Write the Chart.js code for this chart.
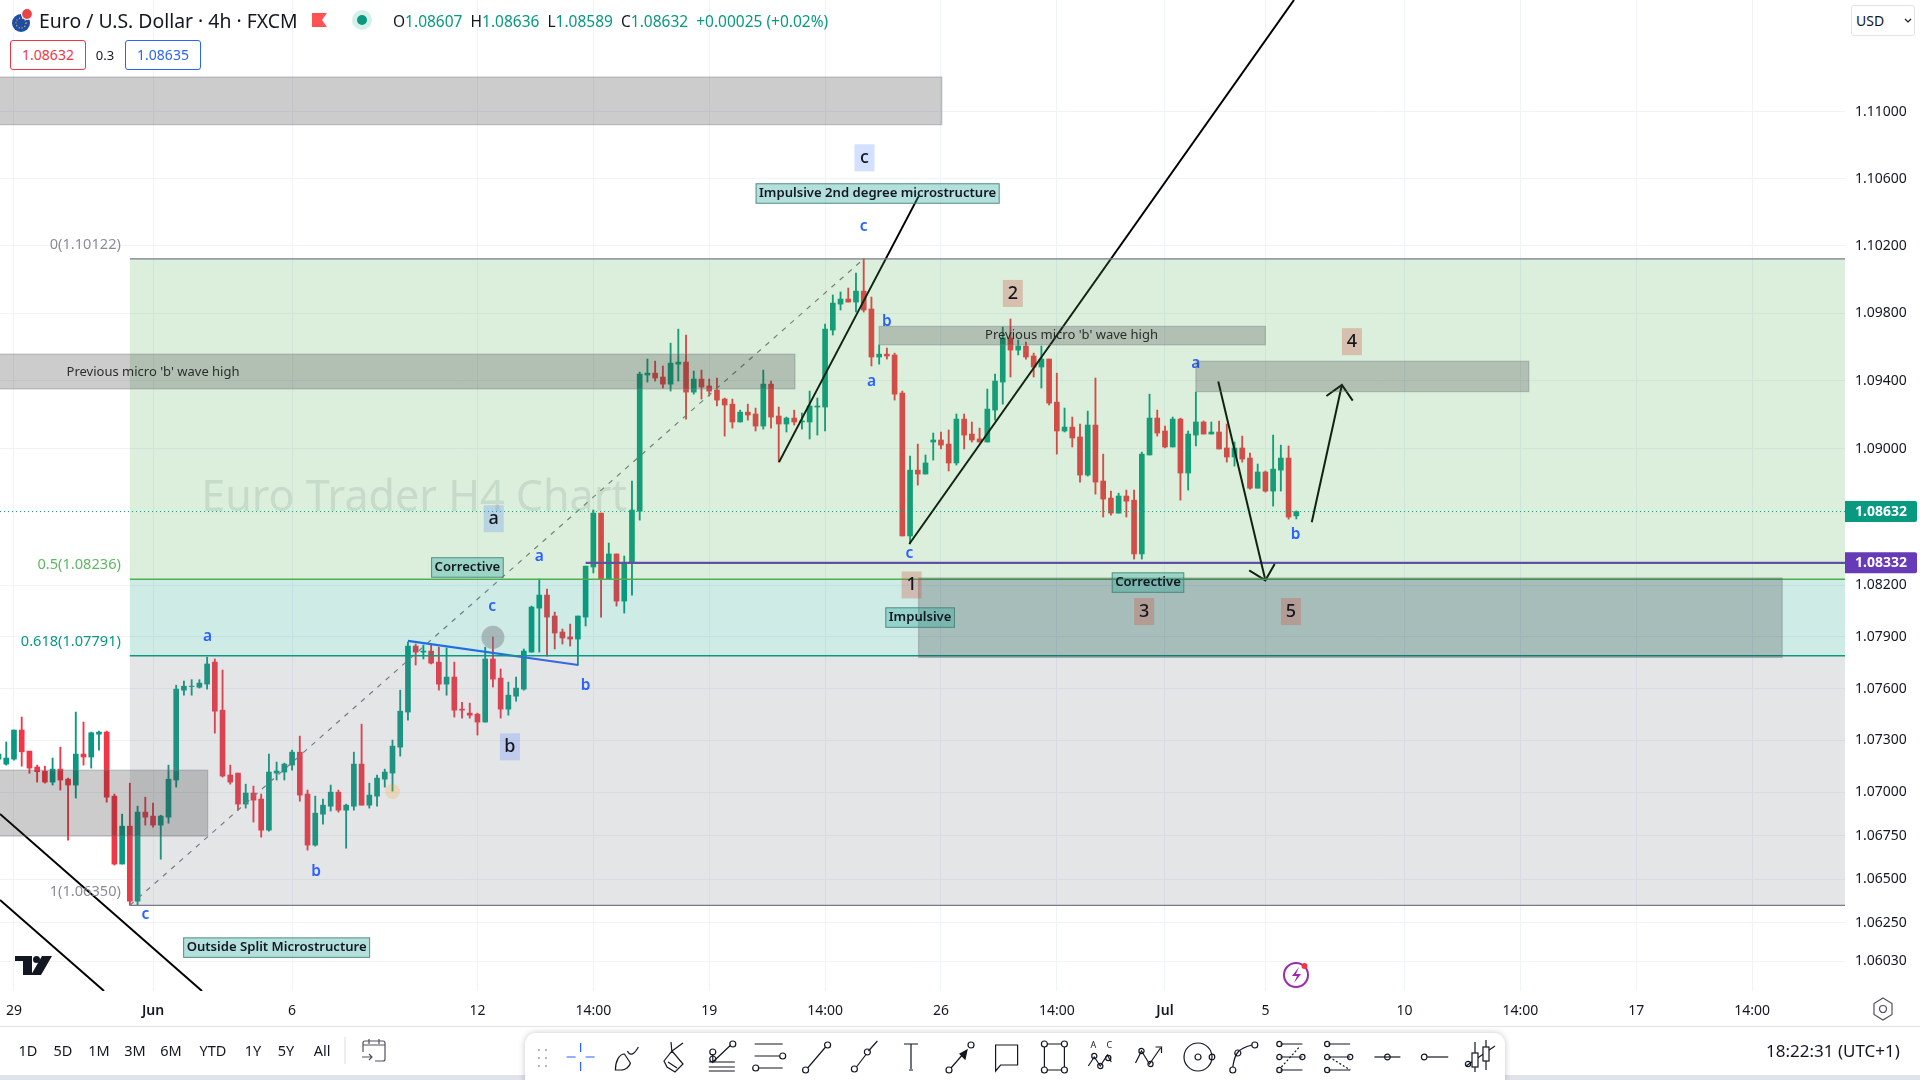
<!DOCTYPE html>
<html><head><meta charset="utf-8">
<script src="https://cdn.jsdelivr.net/npm/chart.js@4/dist/chart.umd.min.js"></script>
<style>
html,body{margin:0;padding:0;background:#fff;width:1920px;height:1080px;overflow:hidden;font-family:"Noto Sans",sans-serif;color:#131722}
#c{position:absolute;left:0;top:0;width:1920px;height:1080px}
.t{position:absolute;white-space:nowrap;transform:translateY(-50%);line-height:1}
.m{transform:translate(-50%,-50%)}
svg{position:absolute;left:0;top:0}
.box{position:absolute;box-sizing:border-box;border-radius:3px;background:#fff}
</style></head><body>
<canvas id="c" width="1920" height="1080"></canvas>
<div id="ui"></div>
<script>
// ---- candle data (index 0 = 1 Jun) ----
const firstBar=-20;
const opens=[1.07192,1.07163,1.07192,1.07360,1.07238,1.07146,1.07122,1.07059,1.07134,1.07076,1.07042,1.07221,1.07204,1.07336,1.07348,1.06978,1.06587,1.06805,1.06374,1.06886,
1.06863,1.06811,1.06857,1.07071,1.07591,1.07612,1.07608,1.07626,1.07754,1.07475,1.07100,1.07111,1.06932,1.06996,1.06961,1.06782,1.07111,1.07117,1.07157,1.07232,
1.06990,1.06696,1.06874,1.06920,1.07001,1.06897,1.06920,1.07163,1.06926,1.06978,1.07076,1.07111,1.07261,1.07464,1.07847,1.07812,1.07818,1.07754,1.07626,1.07667,
1.07481,1.07458,1.07452,1.07406,1.07772,1.07661,1.07481,1.07556,1.07597,1.07812,1.08068,1.08144,1.08022,1.07929,1.07900,1.07888,1.08016,1.08308,1.08623,1.08238,
1.08384,1.08109,1.08331,1.08635,1.09435,1.09446,1.09423,1.09381,1.09499,1.09511,1.09334,1.09411,1.09370,1.09346,1.09293,1.09263,1.09158,1.09216,1.09205,1.09134,
1.09381,1.09193,1.09146,1.09181,1.09158,1.09158,1.09246,1.09246,1.09700,1.09854,1.09884,1.09866,1.09931,1.09825,1.09541,1.09558,1.09553,1.09328,1.08489,1.08875,
1.08852,1.09040,1.09052,1.09028,1.08917,1.09175,1.09087,1.09058,1.09040,1.09228,1.09393,1.09653,1.09582,1.09606,1.09547,1.09482,1.09529,1.09275,1.09105,1.09128,
1.09070,1.08846,1.09140,1.08811,1.08711,1.08623,1.08723,1.08699,1.08384,1.08964,1.09181,1.09105,1.09011,1.09175,1.08858,1.09081,1.09158,1.09087,1.09099,1.09005,
1.08952,1.09005,1.08946,1.08769,1.08864,1.08752,1.08875,1.08946,1.08607];
const highs=[1.07221,1.07291,1.07360,1.07435,1.07238,1.07157,1.07151,1.07198,1.07261,1.07082,1.07464,1.07406,1.07348,1.07354,1.07354,1.06990,1.06874,1.07053,1.06920,1.06972,
1.06938,1.06868,1.07157,1.07620,1.07644,1.07652,1.07652,1.07783,1.07772,1.07708,1.07157,1.07111,1.07047,1.07036,1.06990,1.07221,1.07175,1.07169,1.07244,1.07325,
1.07013,1.06978,1.06961,1.07042,1.07013,1.06932,1.07232,1.07394,1.07053,1.07100,1.07134,1.07302,1.07591,1.07871,1.07859,1.07853,1.07853,1.07841,1.07836,1.07754,
1.07521,1.07516,1.07458,1.07841,1.07900,1.07714,1.07638,1.07667,1.07830,1.08080,1.08238,1.08179,1.08045,1.07946,1.07975,1.08022,1.08313,1.08641,1.08623,1.08448,
1.08384,1.08372,1.08811,1.09452,1.09529,1.09517,1.09488,1.09623,1.09706,1.09671,1.09458,1.09464,1.09411,1.09417,1.09299,1.09293,1.09228,1.09263,1.09240,1.09464,
1.09399,1.09246,1.09187,1.09228,1.09211,1.09340,1.09299,1.09736,1.09908,1.09926,1.09949,1.10038,1.10122,1.09896,1.09612,1.09594,1.09564,1.09340,1.08958,1.09028,
1.08964,1.09093,1.09099,1.09111,1.09205,1.09205,1.09158,1.09122,1.09352,1.09440,1.09718,1.09766,1.09641,1.09629,1.09564,1.09606,1.09529,1.09446,1.09240,1.09187,
1.09146,1.09222,1.09417,1.08969,1.08752,1.08740,1.08758,1.08758,1.08981,1.09322,1.09228,1.09134,1.09187,1.09181,1.09105,1.09334,1.09164,1.09158,1.09164,1.09146,
1.09040,1.09075,1.08975,1.08911,1.08870,1.09081,1.09022,1.09017,1.08636];
const lows=[1.07190,1.07157,1.07186,1.07151,1.07110,1.07059,1.07053,1.07042,1.07013,1.06725,1.06967,1.07157,1.07140,1.07244,1.06943,1.06581,1.06587,1.06351,1.06351,1.06811,
1.06799,1.06615,1.06822,1.07030,1.07562,1.07562,1.07603,1.07597,1.07342,1.07088,1.07047,1.06897,1.06909,1.06828,1.06742,1.06776,1.07071,1.07071,1.07128,1.06949,
1.06667,1.06690,1.06817,1.06892,1.06886,1.06678,1.06897,1.06926,1.06909,1.06920,1.07030,1.07007,1.07209,1.07417,1.07737,1.07772,1.07743,1.07591,1.07562,1.07435,
1.07429,1.07429,1.07331,1.07406,1.07609,1.07429,1.07446,1.07527,1.07591,1.07812,1.07812,1.07789,1.07830,1.07859,1.07847,1.07737,1.07964,1.08273,1.08016,1.08238,
1.08080,1.08039,1.08144,1.08582,1.09393,1.09399,1.09358,1.09340,1.09399,1.09175,1.09322,1.09293,1.09311,1.09252,1.09075,1.09122,1.09158,1.09169,1.09105,1.09116,
1.09122,1.08922,1.09099,1.09140,1.09116,1.09058,1.09081,1.09105,1.09671,1.09819,1.09866,1.09807,1.09807,1.09488,1.09499,1.09529,1.09287,1.08489,1.08442,1.08787,
1.08852,1.08934,1.08999,1.08870,1.08905,1.08999,1.09040,1.09040,1.09040,1.09169,1.09263,1.09423,1.09553,1.09529,1.09423,1.09358,1.09258,1.08969,1.09099,1.09011,
1.08805,1.08840,1.08734,1.08600,1.08611,1.08623,1.08600,1.08354,1.08354,1.08964,1.09075,1.09005,1.09011,1.08699,1.08758,1.09017,1.09087,1.09087,1.08999,1.08922,
1.08899,1.08922,1.08763,1.08769,1.08746,1.08664,1.08752,1.08588,1.08589];
const closes=[1.07221,1.07198,1.07360,1.07234,1.07140,1.07119,1.07059,1.07134,1.07071,1.07042,1.07221,1.07204,1.07344,1.07348,1.06972,1.06587,1.06805,1.06374,1.06886,1.06857,
1.06811,1.06863,1.07076,1.07597,1.07614,1.07614,1.07632,1.07743,1.07469,1.07094,1.07059,1.06932,1.06996,1.06955,1.06782,1.07117,1.07123,1.07163,1.07232,1.06984,
1.06696,1.06880,1.06926,1.07001,1.06897,1.06926,1.07163,1.06926,1.06984,1.07082,1.07117,1.07267,1.07469,1.07847,1.07812,1.07818,1.07748,1.07626,1.07667,1.07475,
1.07475,1.07446,1.07406,1.07772,1.07655,1.07481,1.07562,1.07603,1.07818,1.08074,1.08144,1.08016,1.07923,1.07894,1.07888,1.08022,1.08313,1.08623,1.08238,1.08384,
1.08109,1.08331,1.08641,1.09440,1.09446,1.09417,1.09381,1.09505,1.09511,1.09334,1.09411,1.09364,1.09340,1.09287,1.09258,1.09158,1.09216,1.09199,1.09134,1.09381,
1.09187,1.09146,1.09181,1.09158,1.09164,1.09252,1.09252,1.09706,1.09860,1.09884,1.09866,1.09931,1.09819,1.09541,1.09558,1.09547,1.09322,1.08489,1.08875,1.08852,
1.08917,1.09052,1.09022,1.08917,1.09175,1.09081,1.09052,1.09040,1.09234,1.09399,1.09653,1.09582,1.09606,1.09541,1.09482,1.09529,1.09269,1.09105,1.09128,1.09064,
1.08846,1.09140,1.08805,1.08705,1.08623,1.08723,1.08693,1.08384,1.08969,1.09181,1.09093,1.09011,1.09175,1.08858,1.09087,1.09158,1.09087,1.09099,1.08999,1.08952,
1.09005,1.08940,1.08769,1.08864,1.08752,1.08881,1.08946,1.08600,1.08632];
// ---- axes ----
const xMin=-19.81,xMax=219.03,yMin=1.0586,yMax=1.1167;
const yTicks=[1.11,1.106,1.102,1.098,1.094,1.09,1.082,1.079,1.076,1.073,1.07,1.0675,1.065,1.0625,1.0603];
const xTickBars=[-18,0,18,42,57,72,87,102,117,131,144,162,177,192,207];
const xTickLabels=['29','Jun','6','12','14:00','19','14:00','26','14:00','Jul','5','10','14:00','17','14:00'];
// ---- fib retracement ----
const fibStartBar=-3,fibEndBar=92;
const fibLevels=[1.10122,1.08236,1.07791,1.0635];
const fibLabels=['0(1.10122)','0.5(1.08236)','0.618(1.07791)','1(1.06350)'];
// ---- price lines ----
const lastPrice=1.08632,purpleLevel=1.08332,purpleStartBar=56;
// ---- drawn rectangles [barFrom,barTo,priceTop,priceBottom] ----
const greyBoxes=[[-25,102.1,1.11207,1.10922],[-25,83.1,1.09558,1.09353],[94,144,1.09722,1.09613],[135,178.1,1.09516,1.09337],[99.1,210.9,1.08244,1.07781],[-25,7.07,1.07128,1.06748]];
// ---- drawn trend lines [bar,price] ----
const lineA=[[-19.81,1.06875],[6.34,1.0586]];
const lineB=[[-19.81,1.06381],[-6.34,1.0586]];
const lineC=[[81.04,1.08922],[99.1,1.10494]];
const lineD=[[97.9,1.08442],[147.7,1.1167]];
const arrowDownShaft=[[137.9,1.09396],[144,1.0823]];
const arrowDownHead=[[141.9,1.08288],[144,1.0823],[145.2,1.08325]];
const arrowUpShaft=[[150,1.0857],[153.9,1.09376]];
const arrowUpHead=[[151.9,1.09311],[153.9,1.09376],[155.3,1.09284]];
const blueLine=[[33,1.07877],[55.05,1.07737]];
// ---- text marks [text,bar,price] ----
const waveLabels=[['c',92,1.10317],['b',95,1.09749],['a',93,1.09399],['c',97.9,1.08384],['a',135,1.09505],['b',147.9,1.08498],['a',50,1.08368],['c',43.9,1.08076],['b',56,1.07616],['a',7.07,1.07901],['b',21.1,1.06546],['c',-1,1.06296]];
const blueTags=[['c',92.1,1.10724],['a',44.1,1.0859],['b',46.2,1.07263]];
const brownTags=[['1',98.2,1.08203],['2',111.3,1.09917],['3',128.3,1.08048],['4',155.2,1.09632],['5',147.3,1.08048]];
const notes=[['Impulsive 2nd degree microstructure',93.8,1.10511],['Corrective',40.7,1.08305],['Impulsive',99.3,1.08013],['Corrective',128.8,1.08217],['Outside Split Microstructure',16,1.06108]];
const plainTexts=[["Previous micro 'b' wave high",0,1.09452],["Previous micro 'b' wave high",118.9,1.09669]];
const watermark=['Euro Trader H4 Chart',33.8,1.08705];
const circles=[[44,1.07898],[31,1.07005]];

const FONT='"Noto Sans",sans-serif';
const UP='#089981',DOWN='#f23645';
const idx=opens.map((_,i)=>firstBar+i);
const cols=opens.map((o,i)=>closes[i]>=o?UP:DOWN);
const seg=(pts,color,width,extra)=>Object.assign({type:'line',data:pts.map(p=>({x:p[0],y:p[1]})),borderColor:color,borderWidth:width,pointRadius:0,fill:false,tension:0,order:1},extra||{});

const overlay={
 id:'overlay',
 beforeDatasetsDraw(ch){
  const {ctx,scales:{x,y}}=ch;
  ctx.save();ctx.font='43px '+FONT;ctx.fillStyle='rgba(120,123,134,0.2)';ctx.textAlign='center';ctx.textBaseline='middle';
  ctx.fillText(watermark[0],x.getPixelForValue(watermark[1]),y.getPixelForValue(watermark[2]));ctx.restore();
 },
 afterDatasetsDraw(ch){
  const {ctx,chartArea:a,scales:{x,y}}=ch;
  const X=v=>x.getPixelForValue(v),Y=v=>y.getPixelForValue(v);
  ctx.save();ctx.beginPath();ctx.rect(a.left,a.top,a.right-a.left,a.bottom-a.top);ctx.clip();
  // fib bands
  const fl=X(fibStartBar),fr=a.right;
  const fills=['rgba(76,175,80,0.2)','rgba(8,153,129,0.2)','rgba(120,123,134,0.2)'];
  const strokes=['#787b86','#4caf50','#089981','#787b86'];
  for(let i=0;i<3;i++){ctx.fillStyle=fills[i];ctx.fillRect(fl,Y(fibLevels[i]),fr-fl,Y(fibLevels[i+1])-Y(fibLevels[i]));}
  fibLevels.forEach((v,i)=>{ctx.strokeStyle=strokes[i];ctx.lineWidth=1.4;ctx.beginPath();ctx.moveTo(fl,Y(v));ctx.lineTo(fr,Y(v));ctx.stroke();});
  ctx.font='14.6px '+FONT;ctx.textAlign='right';ctx.textBaseline='middle';
  fibLabels.forEach((t,i)=>{ctx.fillStyle=['#8a8d97','#5cb860','#089981','#8a8d97'][i];ctx.fillText(t,fl-9,Y(fibLevels[i])-14);});
  // blue wave letters (under boxes)
  ctx.font='600 15.5px '+FONT;ctx.textAlign='center';ctx.fillStyle='#2962ff';
  waveLabels.forEach(l=>ctx.fillText(l[0],X(l[1]),Y(l[2])));
  // circles
  [['rgba(120,123,134,0.45)',11.5],['rgba(255,152,0,0.2)',7.5]].forEach((s,i)=>{ctx.fillStyle=s[0];ctx.beginPath();ctx.arc(X(circles[i][0]),Y(circles[i][1]),s[1],0,7);ctx.fill();});
  // grey rectangles
  greyBoxes.forEach(b=>{const l=X(b[0]),r=X(b[1]),t=Y(b[2]),h=Y(b[3])-t;ctx.fillStyle='rgba(40,40,40,0.24)';ctx.fillRect(l,t,r-l,h);ctx.strokeStyle='rgba(120,123,134,0.4)';ctx.lineWidth=1.2;ctx.strokeRect(l,t,r-l,h);});
  // plain text
  ctx.font='13px '+FONT;ctx.fillStyle='#2a2e2a';
  plainTexts.forEach(p=>ctx.fillText(p[0],X(p[1]),Y(p[2])));
  // tags
  const tag=(list,fill)=>list.forEach(l=>{const cx=X(l[1]),cy=Y(l[2]);ctx.fillStyle=fill;ctx.fillRect(cx-10,cy-13.5,20,27);ctx.fillStyle='#131722';ctx.font='500 18px '+FONT;ctx.fillText(l[0],cx,cy);});
  tag(blueTags,'rgba(41,98,255,0.2)');tag(brownTags,'rgba(204,78,64,0.3)');
  // notes
  ctx.font='600 13.1px '+FONT;
  notes.forEach(n=>{const cx=X(n[1]),cy=Y(n[2]),w=ctx.measureText(n[0]).width+6,h=19.5;ctx.fillStyle='rgba(38,166,154,0.35)';ctx.fillRect(cx-w/2,cy-h/2,w,h);ctx.strokeStyle='rgba(70,130,120,0.9)';ctx.lineWidth=1;ctx.strokeRect(cx-w/2,cy-h/2,w,h);ctx.fillStyle='#131722';ctx.fillText(n[0],cx,cy);});
  ctx.restore();
 },
 afterDraw(ch){
  const {ctx,scales:{y}}=ch;
  ctx.save();ctx.font='bold 14px '+FONT;ctx.textBaseline='middle';
  [[lastPrice,'#089981'],[purpleLevel,'#673ab7']].forEach(s=>{const py=y.getPixelForValue(s[0]);ctx.fillStyle=s[1];ctx.beginPath();ctx.roundRect(1845,py-10.5,72,21,[0,2,2,0]);ctx.fill();ctx.fillStyle='#fff';ctx.textAlign='left';ctx.fillText(s[0].toFixed(5),1855,py+.5);});
  ctx.restore();
 }
};

new Chart(document.getElementById('c'),{
 type:'bar',
 data:{datasets:[
  seg(lineA,'#000',2),seg(lineB,'#000',2),seg(lineC,'#000',2),seg(lineD,'#000',2),
  seg(arrowDownShaft,'#000',2),seg(arrowDownHead,'#000',2),seg(arrowUpShaft,'#000',2),seg(arrowUpHead,'#000',2),
  seg(blueLine,'#2962ff',2.2),
  seg([[purpleStartBar,purpleLevel],[xMax,purpleLevel]],'#673ab7',2.2),
  seg([[xMin,lastPrice],[xMax,lastPrice]],'#089981',1,{borderDash:[1,3]}),
  seg([[fibStartBar,fibLevels[3]],[fibEndBar,fibLevels[0]]],'#787b86',1.2,{borderDash:[5,6]}),
  {type:'bar',data:idx.map((v,i)=>({x:v,y:[opens[i],closes[i]]})),backgroundColor:cols,barThickness:5,grouped:false,order:4,borderWidth:0},
  {type:'bar',data:idx.map((v,i)=>({x:v,y:[lows[i],highs[i]]})),backgroundColor:cols,barThickness:1.2,grouped:false,order:5,borderWidth:0}
 ]},
 options:{
  responsive:false,animation:false,devicePixelRatio:1,
  layout:{padding:0},
  plugins:{legend:{display:false},tooltip:{enabled:false},title:{display:false}},
  scales:{
   x:{type:'linear',min:xMin,max:xMax,bounds:'data',offset:false,position:'bottom',
    grid:{color:'#f0f3fa',offset:false,drawTicks:false,lineWidth:1},border:{display:false},
    afterBuildTicks(s){s.ticks=xTickBars.map(v=>({value:v}));},
    afterFit(s){s.height=89;s.paddingLeft=0;s.paddingRight=0;},
    ticks:{autoSkip:false,maxRotation:0,padding:12,color:'#131722',font:c=>({family:'"Noto Sans"',size:14,weight:(c.tick&&(c.tick.value===0||c.tick.value===131))?'600':'400'}),
     callback:v=>xTickLabels[xTickBars.indexOf(v)]}},
   y:{type:'logarithmic',min:yMin,max:yMax,bounds:'data',position:'right',
    grid:{color:'#f0f3fa',drawTicks:false,lineWidth:1},border:{display:false},
    afterBuildTicks(s){s.ticks=yTicks.map(v=>({value:v}));},
    afterFit(s){s.width=75;s.paddingTop=0;s.paddingBottom=0;},
    ticks:{autoSkip:false,padding:10,color:'#131722',font:{family:'"Noto Sans"',size:14},major:{enabled:false},callback:v=>Number(v).toFixed(5)}}
  }
 },
 plugins:[overlay]
});

// ---- page chrome ----
const ui=document.getElementById('ui');
const txt=(s,x,y,size,color,mid,weight)=>`<span class="t${mid?' m':''}" style="left:${x}px;top:${y}px;font-size:${size}px;color:${color||'#131722'};font-weight:${weight||400}">${s}</span>`;
let h='';
h+='<div style="position:absolute;left:0;top:1026px;width:1920px;height:1px;background:#e0e3eb"></div>';
h+='<div style="position:absolute;left:0;top:1075px;width:1920px;height:5px;background:#e0e3eb"></div>';
h+=txt('Euro / U.S. Dollar · 4h · FXCM',39,21,19.4);
const g='#089981';
h+=`<span class="t" style="left:393px;top:22px;font-size:15.5px">O<span style="color:${g}">1.08607</span>&nbsp; H<span style="color:${g}">1.08636</span>&nbsp; L<span style="color:${g}">1.08589</span>&nbsp; C<span style="color:${g}">1.08632</span>&nbsp; <span style="color:${g}">+0.00025 (+0.02%)</span></span>`;
h+=`<div class="box" style="left:10px;top:40px;width:76px;height:30px;border:1px solid #f23645"></div>`+txt('1.08632',48,55,14,'#f23645',1);
h+=txt('0.3',105,55,13,'#131722',1);
h+=`<div class="box" style="left:125px;top:40px;width:76px;height:30px;border:1px solid #2962ff"></div>`+txt('1.08635',163,55,14,'#2962ff',1);
h+=`<div class="box" style="left:1851px;top:5px;width:64px;height:31px;border:1px solid #e0e3eb"></div>`+txt('USD',1856,21,14);
[['1D',28],['5D',63],['1M',99],['3M',135],['6M',171],['YTD',213],['1Y',253],['5Y',286],['All',322]].forEach(r=>h+=txt(r[0],r[1],1050,14.5,'#131722',1));
h+=txt('18:22:31 (UTC+1)',1833,1050,17,'#131722',1);
const cx=[580.6,628.4,673,722.8,768.7,816.6,864.4,911,960,1006.6,1054.4,1100.3,1149.5,1198,1243.8,1290.4,1338.2,1387.4,1435.2,1480];
const icons=[
 '<path stroke="#2962ff" d="M-14 0H-5M5 0H14M0-14V-5M0 5V14"/>',
 '<path d="M-13 13C-13 4-9-3-4-3L2 6C1 10-3 13-7 13ZM-13 13H-5M-1-6C2 0 6-3 10-10"/>',
 '<path d="M-2-15L-1-4M-9 4L-1-6L10 7L2 15L-6 10ZM-5 5L4 11M-1-6L10-14"/>',
 '<path d="M-10-3V5L8-12M-14 5H12M-14 10H12M-14 14H12"/><circle cx="-10" cy="-5" r="3"/><circle cx="10" cy="-13" r="3"/><circle cx="-10" cy="2" r="3"/>',
 '<path d="M-14-13H14M-14-1H11M-10 11H14"/><circle cx="14" cy="-1" r="3"/><circle cx="-13" cy="11" r="3"/>',
 '<path d="M-9 11L9-10"/><circle cx="-11" cy="13" r="3"/><circle cx="11" cy="-12" r="3"/>',
 '<path d="M-8 10L2-3M4-6L13-16"/><circle cx="-10" cy="12" r="3"/><circle cx="3" cy="-5" r="3"/>',
 '<path d="M-7-13H7M0-13V12M-2 13H2"/>',
 '<path d="M-9 11L4-4"/><circle cx="-11" cy="13" r="3"/><circle cx="11" cy="-12" r="3"/><path fill="#131722" d="M7-7L0-3L5 2Z"/>',
 '<path d="M-11-12H11V8H-6L-11 14Z"/>',
 '<path d="M-10-10V10M10-10V10M-7-13H7M-7 13H7"/><circle cx="-10" cy="-13" r="3"/><circle cx="10" cy="-13" r="3"/><circle cx="-10" cy="13" r="3"/><circle cx="10" cy="13" r="3"/>',
 '<path d="M-12 9L-6 0L0 9L7-2L11 5"/><circle cx="-6" cy="-1" r="2.6"/><circle cx="0" cy="9" r="2.6"/><circle cx="8" cy="1" r="2.6"/><text x="-7" y="-9" font-size="9" stroke="none" fill="#131722" text-anchor="middle">A</text><text x="9" y="-9" font-size="9" stroke="none" fill="#131722" text-anchor="middle">C</text>',
 '<path d="M-14 6L-8-6L0 7L11-9M6-10H12V-4"/><circle cx="-8" cy="-6" r="2.6"/><circle cx="1" cy="7" r="2.6"/>',
 '<circle r="14"/><circle r="3"/><circle cx="14" r="2.8"/>',
 '<path d="M-11 10C-9-4-6-8 8-12"/><circle cx="-11" cy="13" r="3"/><circle cx="-6" cy="-4" r="3"/><circle cx="11" cy="-12" r="3"/>',
 '<path d="M-10-13H12M-10 0H12M-10 13H12"/><path stroke-dasharray="2 2" d="M-9 10L9-10"/><circle cx="-11" cy="-13" r="2.6"/><circle cx="-11" cy="0" r="2.6"/><circle cx="-11" cy="13" r="2.6"/><circle cx="12" cy="0" r="2.6"/>',
 '<path d="M-10-13H12M-10 0H12M-10 13H12"/><path stroke-dasharray="2 2" d="M-9 0L12 13"/><circle cx="-11" cy="-13" r="2.6"/><circle cx="-11" cy="0" r="2.6"/><circle cx="-11" cy="13" r="2.6"/><circle cx="12" cy="0" r="2.6"/>',
 '<path d="M-13 0H13"/><circle r="2.8"/>',
 '<path d="M-8 0H13"/><circle cx="-11" r="2.8"/>',
 '<path d="M-5-15V15M6-17V13M-14 9L15-11"/><rect x="-8" y="-4" width="6" height="14" fill="#fff"/><rect x="3" y="-10" width="6" height="14" fill="#fff"/><circle cx="-12" cy="7" r="2.6"/>'
];
let svg='<svg width="1920" height="1080" fill="none" stroke="#131722" stroke-width="1.2">';
svg+='<rect x="525" y="1033" width="980" height="60" rx="11" fill="#fff" stroke="none" style="filter:drop-shadow(0 0 3px rgba(0,0,0,.22))"/>';
svg+='<g fill="#b2b5be" stroke="none">'+[1049,1057,1065].map(y=>`<rect x="538" y="${y}" width="2" height="2"/><rect x="545" y="${y}" width="2" height="2"/>`).join('')+'</g>';
icons.forEach((p,i)=>svg+=`<g transform="translate(${cx[i]},1057)">${p}</g>`);
svg+='<path d="M345 1037V1064" stroke="#e0e3eb"/>';
svg+='<path d="M363 1052V1043Q363 1041 365 1041H383Q385 1041 385 1043V1059Q385 1061 383 1061H375M363 1045H385M369 1039V1044M379 1039V1044M362 1057H372M369 1054L372 1057L369 1060" stroke="#50535e"/>';
svg+='<path d="M312 13H327L322 20L327 27H312Z" fill="#ff5252" stroke="none"/>';
svg+='<circle cx="362" cy="20" r="10" fill="#d5f0ea" stroke="none"/><circle cx="362" cy="20" r="5" fill="#089981" stroke="none"/>';
svg+='<circle cx="21" cy="23" r="9" fill="#1f4da5" stroke="none"/><circle cx="21" cy="23" r="5" fill="none" stroke="#f5c84c" stroke-dasharray="1 2"/><circle cx="27" cy="14" r="5.5" fill="#e8454a" stroke="#fff"/>';
svg+='<path d="M1905 19l3 3l3-3" stroke="#131722"/>';
svg+='<path d="M1883 998L1892 1003.5V1014.5L1883 1020L1874 1014.5V1003.5Z M1883 1005.5A3.5 3.5 0 1 0 1883 1012.5A3.5 3.5 0 1 0 1883 1005.5Z" stroke="#50535e"/>';
svg+='<circle cx="1296" cy="975" r="12" stroke="#9c27b0" stroke-width="2" fill="#fff"/><path d="M1299 967L1292 976H1297L1294 983L1301 974H1296Z" fill="#9c27b0" stroke="none"/><circle cx="1304.5" cy="966" r="3" fill="#f23645" stroke="none"/>';
svg+='<path d="M15 956H32V975H23V961H15Z M42 956H52L41 975H31Z" fill="#131722" stroke="none"/><circle cx="36.5" cy="959.5" r="3.5" fill="#131722" stroke="none"/>';
svg+='</svg>';
h+=svg;
ui.innerHTML=h;
</script></body></html>
